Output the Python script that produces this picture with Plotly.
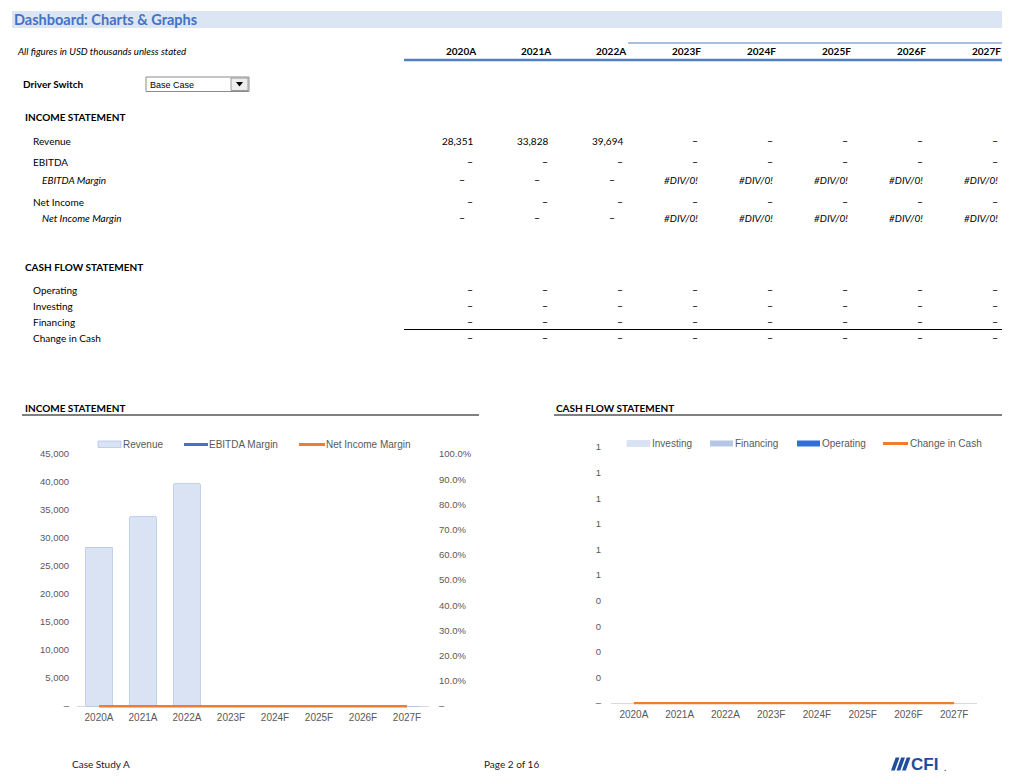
import plotly.graph_objects as go

# ---------------- data ----------------
periods = ["2020A", "2021A", "2022A", "2023F", "2024F", "2025F", "2026F", "2027F"]
revenue = [28351, 33828, 39694, 0, 0, 0, 0, 0]
ebitda = [0, 0, 0, 0, 0, 0, 0, 0]
net_income = [0, 0, 0, 0, 0, 0, 0, 0]
ebitda_margin = [0, 0, 0, 0, 0, 0, 0, 0]
net_income_margin = [0, 0, 0, 0, 0, 0, 0, 0]
ebitda_margin_txt = ["–", "–", "–", "#DIV/0!", "#DIV/0!", "#DIV/0!", "#DIV/0!", "#DIV/0!"]
ni_margin_txt = ["–", "–", "–", "#DIV/0!", "#DIV/0!", "#DIV/0!", "#DIV/0!", "#DIV/0!"]
operating = [0, 0, 0, 0, 0, 0, 0, 0]
investing = [0, 0, 0, 0, 0, 0, 0, 0]
financing = [0, 0, 0, 0, 0, 0, 0, 0]
change_in_cash = [0, 0, 0, 0, 0, 0, 0, 0]

inc_ticks = [0, 5000, 10000, 15000, 20000, 25000, 30000, 35000, 40000, 45000]
pct_ticks = [0, 0.1, 0.2, 0.3, 0.4, 0.5, 0.6, 0.7, 0.8, 0.9, 1.0]
cf_ticks = [0, 0.1, 0.2, 0.3, 0.4, 0.5, 0.6, 0.7, 0.8, 0.9, 1.0]
cf_tick_text = ["–", "0", "0", "0", "0", "1", "1", "1", "1", "1", "1"]

# ---------------- helpers ----------------
W, H = 1024, 784
def fx(p): return p / W
def fy(p): return 1 - p / H

TF = "Lato"
CF = "Liberation Sans, Arial"
GRAY = "#595959"
annotations = []
shapes = []

def txt(x, y, s, size=10, anchor="left", bold=False, italic=False, color="#000000", family=TF):
    if bold:
        s = f"<b>{s}</b>"
    if italic:
        s = f"<i>{s}</i>"
    annotations.append(dict(x=fx(x), y=fy(y), xref="paper", yref="paper", text=s,
                            showarrow=False, xanchor=anchor, yanchor="middle",
                            font=dict(size=size, color=color, family=family),
                            borderpad=0, borderwidth=0))

def line(x0, y0, x1, y1, color="#000000", width=1):
    shapes.append(dict(type="line", xref="paper", yref="paper", x0=fx(x0), y0=fy(y0),
                       x1=fx(x1), y1=fy(y1), line=dict(color=color, width=width)))

def rect(x0, y0, x1, y1, fill, lcolor=None, lw=0):
    shapes.append(dict(type="rect", xref="paper", yref="paper", x0=fx(x0), y0=fy(y0),
                       x1=fx(x1), y1=fy(y1), fillcolor=fill,
                       line=dict(color=lcolor or fill, width=lw)))

def path(pts, fill):
    d = "M " + " L ".join(f"{fx(a)},{fy(b)}" for a, b in pts) + " Z"
    shapes.append(dict(type="path", xref="paper", yref="paper", path=d, fillcolor=fill,
                       line=dict(width=0)))

# ---------------- page header ----------------
rect(12, 11, 1002, 28, "#DBE5F4")
txt(14, 19.5, "Dashboard: Charts & Graphs", size=14.5, bold=True, color="#4472C4")
txt(17, 51.5, "All figures in USD thousands unless stated", size=9.7, italic=True)

col_dash = [470 + 75 * c for c in range(8)]
for c, p in enumerate(periods):
    txt(col_dash[c] + 6, 51.5, p, size=10, anchor="right", bold=True)
line(628, 43, 1002, 43, "#4F7FBF", 1.2)
line(404, 60, 1002, 60, "#4F7FBF", 2.5)

# driver switch
txt(23, 84, "Driver Switch", size=10, bold=True)
rect(146, 77, 249, 91.5, "#FFFFFF", "#8A8A8A", 1)
txt(150, 84.5, "Base Case", size=9, family=CF, color="#000000")
rect(231, 78, 248, 90.5, "#EDEDED", "#9A9A9A", 1)
path([(236, 82), (243, 82), (239.5, 86.5)], "#000000")

# ---------------- table ----------------
def fmt(v):
    return f"{v:,}" if v else "–"

def value_row(y, vals):
    for c, s in enumerate(vals):
        if s == "–":
            txt(col_dash[c], y, s, size=10.5, anchor="center")
        else:
            txt(col_dash[c] + 3, y, s, size=10, anchor="right")

def margin_row(y, vals):
    for c, s in enumerate(vals):
        if s == "–":
            txt(col_dash[c] - 8, y, s, size=10.5, anchor="center")
        else:
            txt(col_dash[c] + 3, y, s, size=10, anchor="right", italic=True)

txt(25, 117, "INCOME STATEMENT", size=10, bold=True)
txt(33, 141, "Revenue")
value_row(141, [fmt(v) for v in revenue])
txt(33, 162, "EBITDA")
value_row(162, [fmt(v) for v in ebitda])
txt(42, 180, "EBITDA Margin", italic=True)
margin_row(180, ebitda_margin_txt)
txt(33, 202, "Net Income")
value_row(202, [fmt(v) for v in net_income])
txt(42, 218, "Net Income Margin", italic=True)
margin_row(218, ni_margin_txt)

txt(25, 267, "CASH FLOW STATEMENT", size=10, bold=True)
txt(33, 290, "Operating")
value_row(290, [fmt(v) for v in operating])
txt(33, 306, "Investing")
value_row(306, [fmt(v) for v in investing])
txt(33, 322, "Financing")
value_row(322, [fmt(v) for v in financing])
line(404, 329.5, 1002, 329.5, "#000000", 1)
txt(33, 338, "Change in Cash")
value_row(338, [fmt(v) for v in change_in_cash])

# ---------------- chart section headers ----------------
txt(25, 408, "INCOME STATEMENT", size=10, bold=True)
line(22, 415, 479, 415, "#000000", 1)
txt(556, 408, "CASH FLOW STATEMENT", size=10, bold=True)
line(554, 415, 1002, 415, "#000000", 1)

# ---------------- charts ----------------
fig = go.Figure()
fig.add_trace(go.Bar(x=periods, y=revenue, name="Revenue", xaxis="x", yaxis="y",
                     marker=dict(color="#DAE3F3", line=dict(color="#B4C7E7", width=0.8))))
fig.add_trace(go.Scatter(x=periods, y=ebitda_margin, name="EBITDA Margin", xaxis="x", yaxis="y2",
                         mode="lines", line=dict(color="#4472C4", width=2.25)))
fig.add_trace(go.Scatter(x=periods, y=net_income_margin, name="Net Income Margin", xaxis="x", yaxis="y2",
                         mode="lines", line=dict(color="#ED7D31", width=2.25)))

fig.add_trace(go.Bar(x=periods, y=investing, name="Investing", xaxis="x2", yaxis="y3",
                     marker=dict(color="#DAE3F3", line=dict(width=0))))
fig.add_trace(go.Bar(x=periods, y=financing, name="Financing", xaxis="x2", yaxis="y3",
                     marker=dict(color="#B4C7E7", line=dict(width=0))))
fig.add_trace(go.Bar(x=periods, y=operating, name="Operating", xaxis="x2", yaxis="y3",
                     marker=dict(color="#2F6FD6", line=dict(width=0))))
fig.add_trace(go.Scatter(x=periods, y=change_in_cash, name="Change in Cash", xaxis="x2", yaxis="y3",
                         mode="lines", line=dict(color="#ED7D31", width=2.25)))

# manual legends
rect(98, 441, 121, 447.5, "#DAE3F3", "#B4C7E7", 0.8)
txt(123, 444.5, "Revenue", size=10, family=CF, color=GRAY)
line(184, 444.5, 208, 444.5, "#4472C4", 3)
txt(209, 444.5, "EBITDA Margin", size=10, family=CF, color=GRAY)
line(299, 444.5, 325, 444.5, "#ED7D31", 3)
txt(326, 444.5, "Net Income Margin", size=10, family=CF, color=GRAY)

rect(627, 440.5, 650, 446.5, "#DAE3F3", "#C9D6EE", 0.5)
txt(652, 443, "Investing", size=10, family=CF, color=GRAY)
rect(710, 440.5, 733, 446.5, "#B4C7E7")
txt(735, 443, "Financing", size=10, family=CF, color=GRAY)
rect(797, 440.5, 820, 446.5, "#2F6FD6")
txt(822, 443, "Operating", size=10, family=CF, color=GRAY)
line(883, 443.5, 908, 443.5, "#ED7D31", 3)
txt(910, 443, "Change in Cash", size=10, family=CF, color=GRAY)

# ---------------- footer ----------------
txt(72, 764, "Case Study A", size=10, color="#1A1A1A")
txt(484, 764, "Page 2 of 16", size=10, color="#1A1A1A")
for k in range(3):
    o = 891 + 5.5 * k
    path([(o, 770.5), (o + 3.8, 770.5), (o + 8.5, 757.5), (o + 4.7, 757.5)], "#1F4E9D")
txt(911, 764, "CFI", size=17, bold=True, color="#1F4E9D", family=CF)
txt(944, 768.5, ".", size=8, bold=True, color="#1F4E9D", family=CF)

tickfont = dict(family=CF, size=9.5, color=GRAY)
fig.update_layout(
    width=W, height=H, margin=dict(l=0, r=0, t=0, b=0, autoexpand=False),
    paper_bgcolor="#FFFFFF", plot_bgcolor="rgba(0,0,0,0)",
    showlegend=False, barmode="stack", bargap=0.4,
    annotations=annotations, shapes=shapes,
    xaxis=dict(domain=[fx(77), fx(429)], anchor="y", showline=False, showgrid=False,
               zeroline=False, ticks="", automargin=False,
               tickfont=dict(family=CF, size=10, color=GRAY)),
    yaxis=dict(domain=[fy(710), fy(454)], range=[-714, 45000], tickvals=inc_ticks,
               ticktext=[f"{v:,}" if v else "–" for v in inc_ticks], showgrid=False,
               zeroline=True, zerolinecolor="#D9D9D9", zerolinewidth=1, showline=False,
               ticks="", ticklabelstandoff=7, automargin=False, tickfont=tickfont),
    yaxis2=dict(overlaying="y", anchor="x", side="right", range=[-0.01587, 1],
                tickvals=pct_ticks, ticktext=[f"{v:.1%}" if v else "–" for v in pct_ticks],
                showgrid=False, zeroline=False, showline=False, ticks="", automargin=False,
                ticklabelstandoff=9, tickfont=tickfont),
    xaxis2=dict(domain=[fx(611), fx(977)], anchor="y3", showline=False, showgrid=False,
                zeroline=False, ticks="", automargin=False,
                tickfont=dict(family=CF, size=10, color=GRAY)),
    yaxis3=dict(domain=[fy(707), fy(447)], anchor="x2", range=[-0.0156, 1], tickvals=cf_ticks,
                ticktext=cf_tick_text, showgrid=False, zeroline=True, zerolinecolor="#D9D9D9",
                zerolinewidth=1, showline=False, ticks="", ticklabelstandoff=9,
                automargin=False, tickfont=tickfont),
)

fig.write_html("out.html")
